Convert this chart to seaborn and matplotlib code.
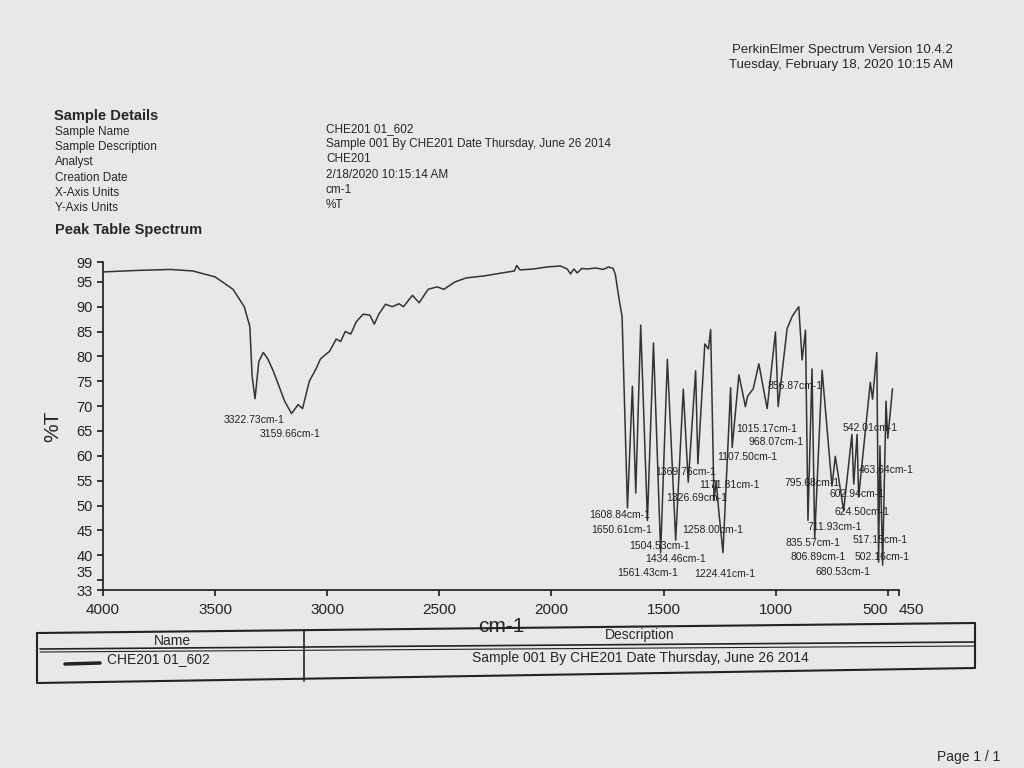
import matplotlib
matplotlib.use("Agg")
import matplotlib.pyplot as plt
import seaborn as sns
import pandas as pd

sns.set_theme(style="ticks")
plt.rcParams['font.family'] = ['Liberation Sans', 'DejaVu Sans']

wavenumber = [4000, 3850, 3700, 3600, 3500, 3420, 3370, 3345, 3335, 3322, 3305, 3285, 3265, 3240, 3215, 3190, 3159,
              3130, 3110, 3080, 3050, 3030, 3010, 2990, 2960, 2940, 2920, 2895, 2870, 2840, 2810, 2790, 2770,
              2740, 2710, 2680, 2660, 2620, 2590, 2550, 2510, 2480, 2430, 2380, 2300, 2220, 2165, 2155, 2140,
              2080, 2020, 1960, 1930, 1915, 1900, 1885, 1865, 1840, 1800, 1770, 1745, 1725, 1715,
              1700, 1685, 1661, 1639, 1624, 1602, 1572, 1545, 1513, 1483, 1446, 1412, 1390, 1357, 1347,
              1316, 1300, 1290, 1275, 1265, 1255, 1235, 1201, 1194, 1164, 1135, 1125, 1100, 1075, 1038,
              1001, 989, 949, 927, 905, 897, 882, 867, 856, 838, 826, 793, 749, 734, 697, 660, 652, 637,
              630, 578, 568, 549, 541, 535, 523, 508, 500, 479]
transmittance = [97.0, 97.3, 97.5, 97.2, 96.0, 93.5, 90.0, 86.0, 76.0, 71.5, 79.0, 80.8, 79.5, 77.0, 74.0, 71.0, 68.5,
                 70.3, 69.5, 75.0, 77.5, 79.5, 80.3, 81.0, 83.5, 83.0, 85.0, 84.5, 87.0, 88.5, 88.3, 86.5, 88.5,
                 90.5, 90.0, 90.6, 90.0, 92.3, 90.8, 93.5, 94.0, 93.5, 95.0, 95.8, 96.2, 96.8, 97.2, 98.3, 97.4,
                 97.6, 98.0, 98.2, 97.6, 96.6, 97.6, 96.8, 97.7, 97.6, 97.8, 97.5, 98.0, 97.7, 96.5,
                 92.0, 88.0, 49.5, 74.0, 52.5, 86.3, 47.0, 82.7, 40.5, 79.4, 43.0, 73.4, 54.7, 77.1, 58.4,
                 82.5, 81.5, 85.4, 51.0, 55.0, 49.5, 40.5, 73.7, 61.7, 76.3, 69.9, 72.0, 73.5, 78.5, 69.5,
                 84.9, 69.9, 85.6, 88.0, 89.5, 90.0, 79.3, 85.3, 47.0, 77.5, 43.5, 77.2, 53.9, 59.9, 49.0, 64.3,
                 54.3, 64.3, 51.7, 74.8, 71.4, 80.8, 38.6, 62.0, 38.0, 71.0, 63.5, 73.5]

peak_labels = ["3322.73cm-1", "3159.66cm-1", "1608.84cm-1", "1650.61cm-1", "1504.53cm-1", "1434.46cm-1",
               "1561.43cm-1", "1369.76cm-1", "1326.69cm-1", "1171.81cm-1", "1258.00cm-1", "1224.41cm-1",
               "1107.50cm-1", "1015.17cm-1", "968.07cm-1", "856.87cm-1", "795.68cm-1", "711.93cm-1",
               "835.57cm-1", "806.89cm-1", "680.53cm-1", "624.50cm-1", "602.94cm-1", "542.01cm-1",
               "463.64cm-1", "517.15cm-1", "502.16cm-1"]
label_px = [(254, 420), (290, 434), (620, 515), (622, 530), (660, 546), (676, 559), (648, 573), (686, 472),
            (697, 498), (729, 485), (713, 530), (725, 574), (747, 457), (767, 429), (776, 442), (795, 386),
            (812, 483), (835, 527), (813, 543), (818, 557), (843, 572), (862, 512), (857, 494), (870, 428),
            (886, 470), (880, 540), (882, 557)]

xticks = [4000, 3500, 3000, 2500, 2000, 1500, 1000, 500, 450]
yticks = [33, 35, 40, 45, 50, 55, 60, 65, 70, 75, 80, 85, 90, 95, 99]

W, H = 1024, 768
bg = '#e8e8e6'
fig = plt.figure(figsize=(W/100, H/100), dpi=100, facecolor=bg)
ax = fig.add_axes([103/W, 1-590/H, 796/W, 328/H], facecolor=bg)

df = pd.DataFrame({"cm-1": wavenumber, "%T": transmittance})
sns.lineplot(data=df, x="cm-1", y="%T", ax=ax, color='#333333', lw=1.1, sort=False)
ax.set_xlim(4000, 450)
ax.set_ylim(33, 99)
ax.set_xticks(xticks)
ax.set_xticklabels([str(t) for t in xticks])
xl = ax.get_xticklabels()
xl[-2].set_horizontalalignment('right'); xl[-1].set_horizontalalignment('left')
ax.set_yticks(yticks)
ax.tick_params(labelsize=11, length=4, colors='#222222')
ax.tick_params(axis='x', pad=5)
ax.tick_params(axis='y', labelsize=10.5)
yl = ax.get_yticklabels()
yl[1].set_verticalalignment('bottom')
for s in ['top', 'right']:
    ax.spines[s].set_visible(False)
for s in ['left', 'bottom']:
    ax.spines[s].set_color('#222222')
ax.set_xlabel("cm-1", fontsize=15, labelpad=0)
ax.set_ylabel("%T", fontsize=15, labelpad=10)

def px2data(x, y):
    wn = 4000 - (x - 103) * 3550 / 796
    t = 99 - (y - 262) * 66 / 328
    return wn, t

for lab, (px, py) in zip(peak_labels, label_px):
    wn, t = px2data(px, py)
    ax.text(wn, t, lab, fontsize=7.5, ha='center', va='center', color='#222222')

def ftext(x, y, s, **kw):
    fig.text(x/W, 1-y/H, s, **kw)

ftext(953, 50, "PerkinElmer Spectrum Version 10.4.2", fontsize=9.5, ha='right', va='center')
ftext(953, 65, "Tuesday, February 18, 2020 10:15 AM", fontsize=9.5, ha='right', va='center')
ftext(54, 116, "Sample Details", fontsize=10.5, weight='bold', va='center')
keys = ["Sample Name", "Sample Description", "Analyst", "Creation Date", "X-Axis Units", "Y-Axis Units"]
vals = ["CHE201 01_602", "Sample 001 By CHE201 Date Thursday, June 26 2014", "CHE201",
        "2/18/2020 10:15:14 AM", "cm-1", "%T"]
for i, (k, v) in enumerate(zip(keys, vals)):
    ftext(55, 132 + i*15.2, k, fontsize=8.5, va='center')
    ftext(326, 129 + i*15.2, v, fontsize=8.5, va='center')
ftext(55, 230, "Peak Table Spectrum", fontsize=10.5, weight='bold', va='center')

def fline(xs, ys, lw=1.2):
    fig.add_artist(plt.Line2D([x/W for x in xs], [1-y/H for y in ys], color='#222222', lw=lw))
fline([37, 975, 975, 37, 37], [633, 623, 668, 683, 633], lw=1.5)
fline([40, 975], [649, 642])
fline([304, 304], [630, 681])
fline([40, 975], [652, 646], lw=0.8)
ftext(172, 641, "Name", fontsize=10, ha='center', va='center')
ftext(640, 635, "Description", fontsize=10, ha='center', va='center')
fline([65, 100], [664, 663], lw=2.5)
ftext(107, 659, "CHE201 01_602", fontsize=10, va='center')
ftext(640, 658, "Sample 001 By CHE201 Date Thursday, June 26 2014", fontsize=10, ha='center', va='center')
ftext(1000, 757, "Page 1 / 1", fontsize=10, ha='right', va='center')

fig.savefig("out.png", dpi=100, facecolor=bg)
